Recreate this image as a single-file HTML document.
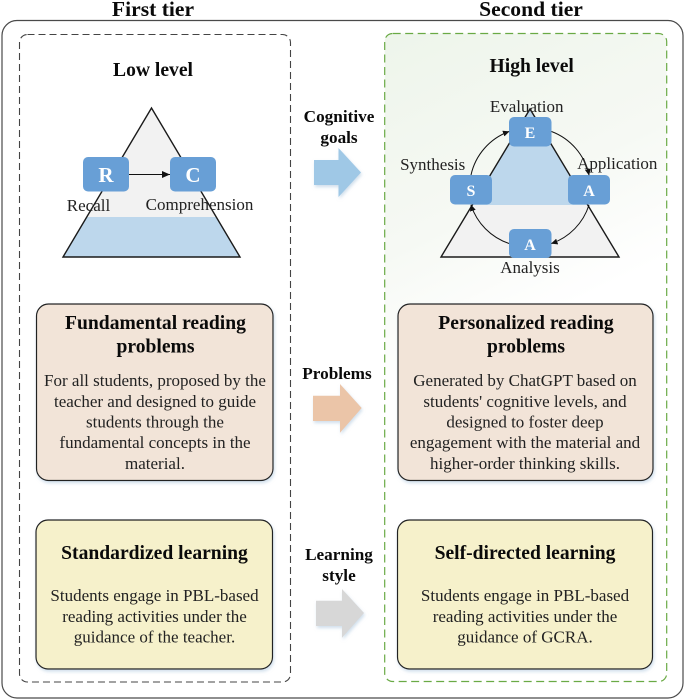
<!DOCTYPE html>
<html><head><meta charset="utf-8">
<style>
html,body{margin:0;padding:0;background:#fff;width:685px;height:700px;overflow:hidden}
svg{display:block;filter:blur(0.3px)}
text{font-family:"Liberation Serif",serif;fill:#222}
.t{font-weight:bold;font-size:21.6px;text-anchor:middle;fill:#0a0a0a}
.h{font-weight:bold;font-size:19.6px;text-anchor:middle;fill:#0a0a0a}
.b{font-size:17px;text-anchor:middle}
.l{font-size:17px;text-anchor:middle}
.a{font-weight:bold;font-size:17.2px;text-anchor:middle;fill:#0a0a0a}
.w{font-weight:bold;text-anchor:middle;fill:#fff}
</style></head><body>
<svg width="685" height="700" viewBox="0 0 685 700" xmlns="http://www.w3.org/2000/svg">
<defs>
<linearGradient id="g" gradientUnits="userSpaceOnUse" x1="400" y1="34" x2="540" y2="320">
<stop offset="0" stop-color="#eef5eb"/><stop offset="0.6" stop-color="#f6f9f4"/><stop offset="1" stop-color="#ffffff"/>
</linearGradient>
<filter id="s" x="-10%" y="-10%" width="125%" height="125%"><feDropShadow dx="1" dy="2" stdDeviation="1.5" flood-color="#a9c4dc" flood-opacity="0.55"/></filter>
<marker id="m" markerWidth="7" markerHeight="7" refX="6" refY="3" orient="auto" markerUnits="userSpaceOnUse"><path d="M0,0 L6.5,3 L0,6 Z" fill="#111"/></marker>
<marker id="m2" markerWidth="9" markerHeight="8" refX="8" refY="3.5" orient="auto" markerUnits="userSpaceOnUse"><path d="M0,0 L8,3.5 L0,7 Z" fill="#111"/></marker>
</defs>

<text class="t" x="153" y="16">First tier</text>
<text class="t" x="531" y="16">Second tier</text>

<rect x="2" y="20.5" width="681" height="677.5" rx="15" fill="#fff" stroke="#4a4a4a" stroke-width="1.2"/>

<rect x="19.5" y="34.5" width="271" height="647.5" rx="8" fill="#fff" stroke="#444" stroke-width="1.1" stroke-dasharray="7 4"/>
<rect x="384.7" y="33.5" width="282" height="648" rx="8" fill="url(#g)" stroke="#6aaa45" stroke-width="1.2" stroke-dasharray="8 4.5"/>

<!-- left pyramid -->
<path d="M151.5,108 L63,257 H240 Z" fill="#f2f2f2"/>
<path d="M87,217 H216 L240,257 H63 Z" fill="#bdd7ec"/>
<path d="M151.5,108 L63,257 H240 Z" fill="none" stroke="#1a1a1a" stroke-width="1.4"/>
<rect x="83" y="157" width="46" height="34.5" rx="5" fill="#689fd6"/>
<rect x="170" y="157" width="46" height="34.5" rx="5" fill="#689fd6"/>
<text class="w" x="106" y="182" font-size="21">R</text>
<text class="w" x="193" y="182" font-size="21">C</text>
<line x1="129" y1="174.5" x2="170" y2="174.5" stroke="#111" stroke-width="1" marker-end="url(#m2)"/>
<text class="l" x="88.5" y="211">Recall</text>
<text class="l" x="199.5" y="210">Comprehension</text>
<text class="h" x="153" y="76">Low level</text>

<!-- right pyramid -->
<path d="M530,109 L441,257 H619 Z" fill="#f2f2f2"/>
<path d="M530,109 L472,205 H588 Z" fill="#bdd7ec"/>
<path d="M530,109 L441,257 H619 Z" fill="none" stroke="#1a1a1a" stroke-width="1.4"/>
<rect x="509" y="117" width="42.5" height="29.5" rx="5" fill="#689fd6"/>
<rect x="450" y="175" width="42" height="29.5" rx="5" fill="#689fd6"/>
<rect x="568" y="175" width="42" height="29.5" rx="5" fill="#689fd6"/>
<rect x="509" y="229" width="42.5" height="29" rx="5" fill="#689fd6"/>
<text class="w" x="530" y="138" font-size="16">E</text>
<text class="w" x="471" y="196" font-size="16">S</text>
<text class="w" x="589" y="196" font-size="16">A</text>
<text class="w" x="530" y="250" font-size="16">A</text>
<path d="M471,175 A60,60 0 0 1 509,131.5" fill="none" stroke="#111" stroke-width="1" marker-end="url(#m)"/>
<path d="M551.5,131.5 A60,60 0 0 1 589,175" fill="none" stroke="#111" stroke-width="1" marker-end="url(#m)"/>
<path d="M589,205 A60,60 0 0 1 551.5,243.5" fill="none" stroke="#111" stroke-width="1" marker-end="url(#m)"/>
<path d="M509,243.5 A60,60 0 0 1 471,205" fill="none" stroke="#111" stroke-width="1" marker-end="url(#m)"/>
<text class="l" x="526.7" y="112">Evaluation</text>
<text class="l" x="432.7" y="170">Synthesis</text>
<text class="l" x="617.3" y="169">Application</text>
<text class="l" x="530" y="273">Analysis</text>
<text class="h" x="531.7" y="72">High level</text>

<!-- arrows and labels -->
<text class="a" x="339" y="122">Cognitive</text>
<text class="a" x="339" y="143">goals</text>
<path d="M314,160 H338.5 V148 L361,172.5 L338.5,197 V185 H314 Z" fill="#9fc8e6" filter="url(#s)"/>
<text class="a" x="337" y="379">Problems</text>
<path d="M313,395.7 H340 V384 L361.7,408 L340,432.7 V421 H313 Z" fill="#ebc5a8" filter="url(#s)"/>
<text class="a" x="339" y="560">Learning</text>
<text class="a" x="339" y="581">style</text>
<path d="M316,600.7 H342 V589 L364,613 L342,637.7 V626 H316 Z" fill="#d7d7d7" filter="url(#s)"/>

<!-- boxes -->
<rect x="36.5" y="304" width="236.5" height="176.5" rx="12" fill="#f2e4d8" stroke="#222" stroke-width="1.2" filter="url(#s)"/>
<rect x="36" y="520" width="236.5" height="149" rx="12" fill="#f6f1cb" stroke="#222" stroke-width="1.2" filter="url(#s)"/>
<rect x="398" y="304" width="255" height="176.5" rx="12" fill="#f2e4d8" stroke="#222" stroke-width="1.2" filter="url(#s)"/>
<rect x="397.5" y="520" width="255" height="149" rx="12" fill="#f6f1cb" stroke="#222" stroke-width="1.2" filter="url(#s)"/>

<text class="h" x="155.5" y="329">Fundamental reading</text>
<text class="h" x="155.5" y="352.5">problems</text>
<text class="b" x="155" y="386">For all students, proposed by the</text>
<text class="b" x="155" y="407">teacher and designed to guide</text>
<text class="b" x="155" y="427.5">students through the</text>
<text class="b" x="155" y="448">fundamental concepts in the</text>
<text class="b" x="155" y="469">material.</text>

<text class="h" x="154.5" y="559">Standardized learning</text>
<text class="b" x="154.5" y="601">Students engage in PBL-based</text>
<text class="b" x="154.5" y="622">reading activities under the</text>
<text class="b" x="154.5" y="642.5">guidance of the teacher.</text>

<text class="h" x="526" y="329">Personalized reading</text>
<text class="h" x="526" y="352.5">problems</text>
<text class="b" x="525" y="386">Generated by ChatGPT based on</text>
<text class="b" x="525" y="407">students' cognitive levels, and</text>
<text class="b" x="525" y="427.5">designed to foster deep</text>
<text class="b" x="525" y="448">engagement with the material and</text>
<text class="b" x="525" y="469">higher-order thinking skills.</text>

<text class="h" x="525" y="559">Self-directed learning</text>
<text class="b" x="525" y="601">Students engage in PBL-based</text>
<text class="b" x="525" y="622">reading activities under the</text>
<text class="b" x="525" y="642.5">guidance of GCRA.</text>
</svg>
</body></html>
